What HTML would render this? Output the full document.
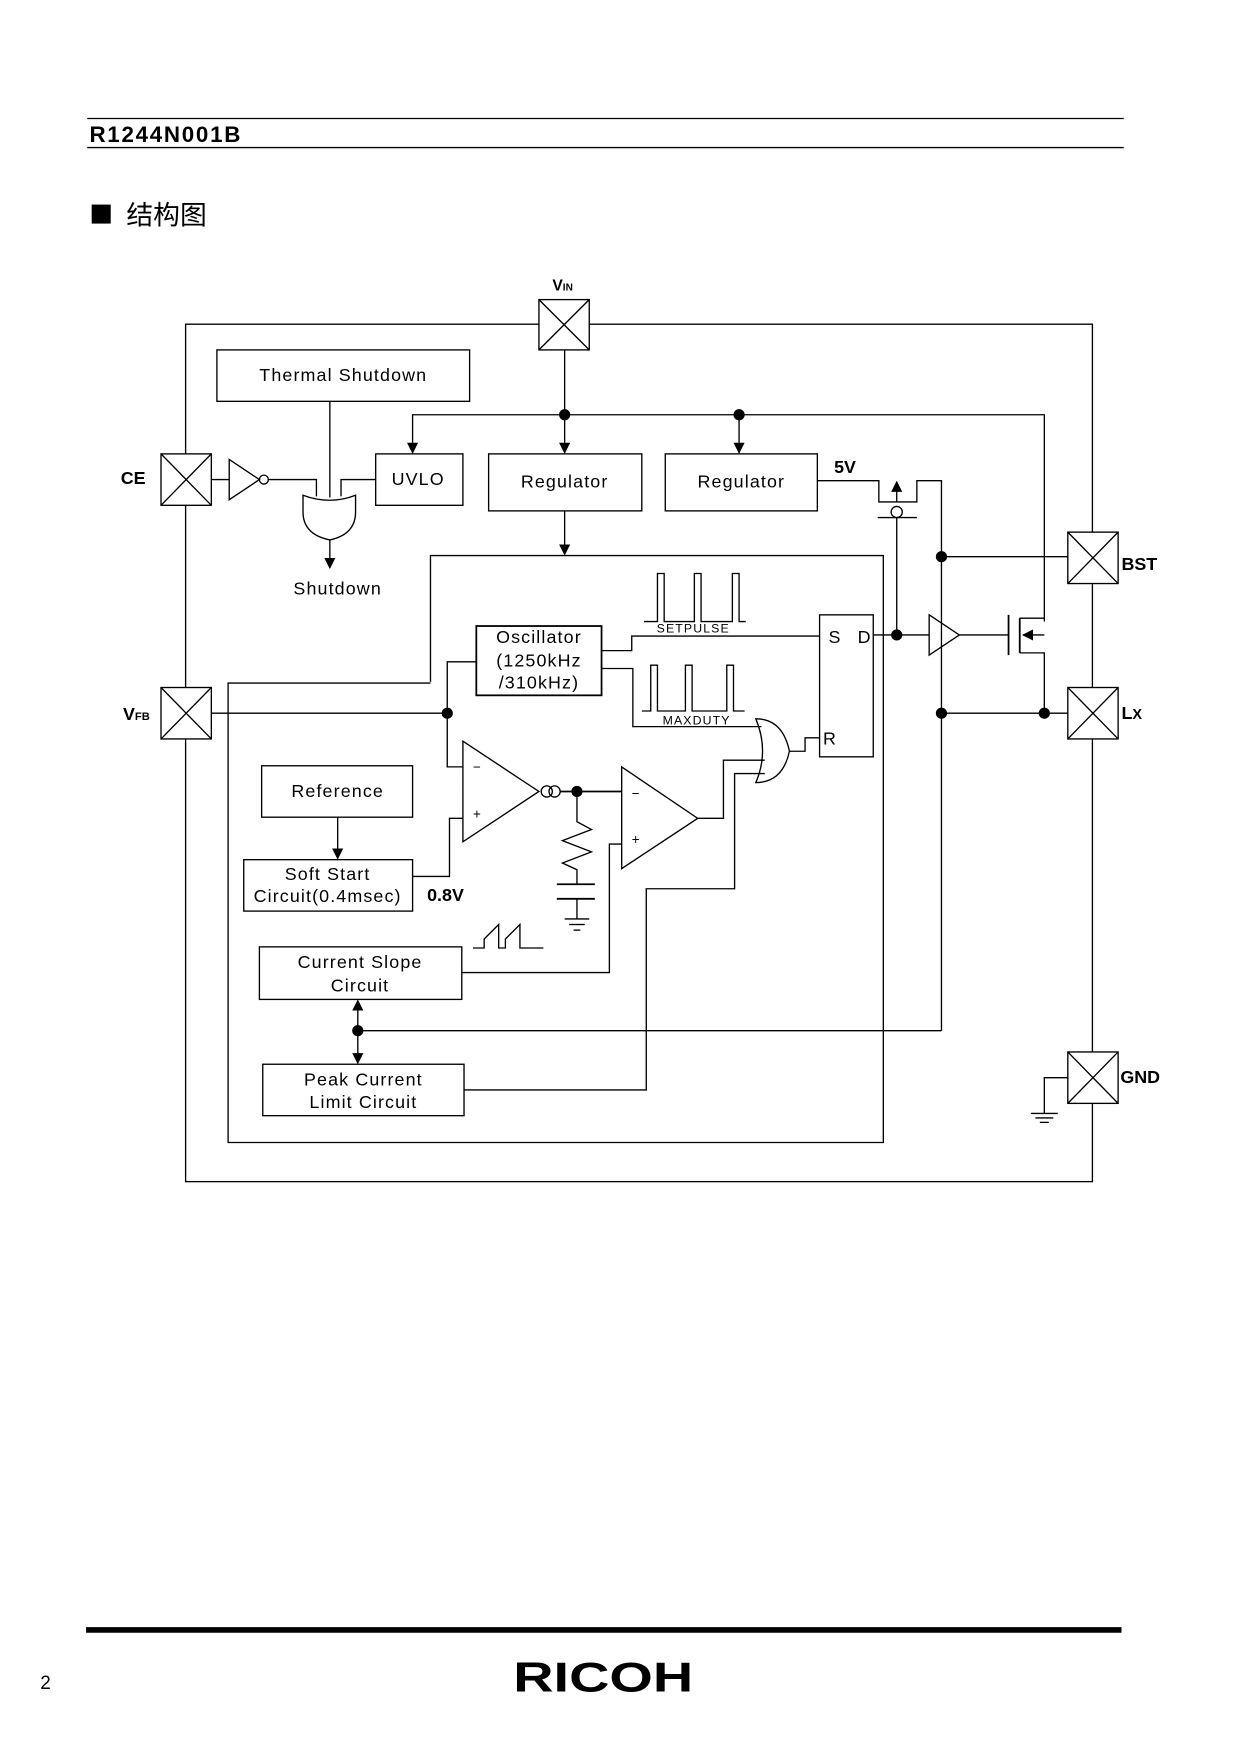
<!DOCTYPE html>
<html><head><meta charset="utf-8"><style>
html,body{margin:0;padding:0;background:#fff;}
svg{display:block;}
text{font-family:"Liberation Sans","Noto Sans CJK SC",sans-serif;fill:#000;}
</style></head><body>
<svg width="1240" height="1754" viewBox="0 0 1109 1569" preserveAspectRatio="none" xmlns="http://www.w3.org/2000/svg">
<defs>
<marker id="ar" markerWidth="10" markerHeight="10" refX="9" refY="5" orient="auto" markerUnits="userSpaceOnUse"><path d="M0,0 L10,5 L0,10 z" fill="#000"/></marker>
</defs>
<g stroke="#000" stroke-width="1.2" fill="none">
<line x1="78" y1="106" x2="1005" y2="106"/>
<line x1="78" y1="132" x2="1005" y2="132"/>
<line x1="77" y1="1458" x2="1003" y2="1458" stroke-width="5"/>
<rect x="166" y="290" width="811" height="767"/>
<g fill="#fff">
<rect x="482" y="268" width="45" height="45"/>
<rect x="144" y="406" width="45" height="46"/>
<rect x="144" y="615" width="45" height="46"/>
<rect x="955" y="476" width="45" height="46"/>
<rect x="955" y="615" width="45" height="46"/>
<rect x="955" y="941" width="45" height="46"/>
</g>
<path d="M482,268 L527,313 M527,268 L482,313"/>
<path d="M144,406 L189,452 M189,406 L144,452"/>
<path d="M144,615 L189,661 M189,615 L144,661"/>
<path d="M955,476 L1000,522 M1000,476 L955,522"/>
<path d="M955,615 L1000,661 M1000,615 L955,661"/>
<path d="M955,941 L1000,987 M1000,941 L955,987"/>
<rect x="194" y="313" width="226" height="46"/>
<rect x="336" y="406" width="78" height="46"/>
<rect x="437" y="406" width="137" height="51"/>
<rect x="595" y="406" width="136" height="51"/>
<rect x="426" y="560" width="112" height="62" stroke-width="1.6"/>
<rect x="733" y="550" width="48" height="127"/>
<rect x="234" y="685" width="135" height="46"/>
<rect x="218" y="769" width="151" height="46"/>
<rect x="232" y="847" width="181" height="47"/>
<rect x="235" y="952" width="180" height="46"/>
<path d="M385,610 L385,497 L790,497 L790,1022 L204,1022 L204,611 L385,611"/>
<line x1="505" y1="313" x2="505" y2="405" marker-end="url(#ar)"/>
<path d="M934,556 L934,371 L369,371 L369,405" marker-end="url(#ar)"/>
<line x1="661" y1="371" x2="661" y2="405" marker-end="url(#ar)"/>
<line x1="505" y1="457" x2="505" y2="496" marker-end="url(#ar)"/>
<line x1="189" y1="429" x2="205" y2="429"/>
<path d="M205,411 L232,429 L205,447 z"/>
<circle cx="236" cy="429" r="4"/>
<path d="M240,429 L283,429 L283,444"/>
<path d="M336,429 L305,429 L305,444"/>
<line x1="295" y1="359" x2="295" y2="445"/>
<path d="M271,443 Q295,452 318,443 L318,458 Q318,478 295,483 Q271,478 271,458 z"/>
<line x1="295" y1="483" x2="295" y2="508" marker-end="url(#ar)"/>
<path d="M731,430 L786,430 L786,449 L820,449 L820,430 L842,430 L842,922"/>
<line x1="785" y1="463" x2="820" y2="463"/>
<circle cx="802" cy="458" r="5" fill="#fff"/>
<line x1="802" y1="449" x2="802" y2="431" marker-end="url(#ar)"/>
<line x1="802" y1="463" x2="802" y2="568"/>
<line x1="842" y1="498" x2="955" y2="498"/>
<line x1="842" y1="638" x2="955" y2="638"/>
<line x1="781" y1="568" x2="831" y2="568"/>
<path d="M831,550 L858,568 L831,586 z"/>
<line x1="858" y1="568" x2="902" y2="568"/>
<line x1="902" y1="550" x2="902" y2="586" stroke-width="1.6"/>
<line x1="912" y1="553" x2="912" y2="584" stroke-width="1.6"/>
<path d="M912,553 L934,553 M912,584 L934,584 L934,638"/>
<line x1="934" y1="568" x2="915" y2="568" marker-end="url(#ar)"/>
<path d="M955,964 L934,964 L934,996"/>
<line x1="922" y1="996" x2="946" y2="996"/>
<line x1="926" y1="1000" x2="942" y2="1000"/>
<line x1="930" y1="1004" x2="938" y2="1004"/>
<line x1="189" y1="638" x2="400" y2="638"/>
<path d="M426,592 L400,592 L400,686 L414,686"/>
<path d="M538,582 L565,582 L565,569 L733,569"/>
<path d="M538,598 L566,598 L566,650 L681,650"/>
<path d="M576,556 L588,556 L588,513 L594,513 L594,556 L621,556 L621,513 L627,513 L627,556 L655,556 L655,513 L661,513 L661,556 L667,556"/>
<path d="M574,636 L582,636 L582,595 L588,595 L588,636 L613,636 L613,595 L619,595 L619,636 L650,636 L650,595 L656,595 L656,636 L666,636"/>
<path d="M414,663 L482,708 L414,753 z"/>
<path d="M369,784 L402,784 L402,732 L414,732"/>
<circle cx="489" cy="708" r="5"/>
<circle cx="496" cy="708" r="5"/>
<line x1="501" y1="708" x2="556" y2="708" stroke-width="1.6"/>
<path d="M516,708 L516,735 L529,742 L503,752 L529,762 L503,772 L516,778 L516,791"/>
<line x1="498" y1="791" x2="532" y2="791" stroke-width="1.6"/>
<line x1="498" y1="804" x2="532" y2="804" stroke-width="1.6"/>
<line x1="516" y1="804" x2="516" y2="822"/>
<line x1="505" y1="822" x2="527" y2="822"/>
<line x1="509" y1="827" x2="523" y2="827"/>
<line x1="513" y1="832" x2="519" y2="832"/>
<path d="M556,686 L624,732 L556,777 z"/>
<path d="M413,870 L545,870 L545,755 L556,755"/>
<path d="M624,732 L647,732 L647,680 L684,680"/>
<path d="M415,975 L578,975 L578,795 L657,795 L657,692 L684,692"/>
<path d="M676,643 Q700,643 706,672 Q700,700 676,700 Q688,672 676,643 z"/>
<path d="M706,672 L720,672 L720,660 L733,660"/>
<path d="M423,848 L433,848 L433,840 L446,827 L446,848 L452,848 L452,840 L465,827 L465,848 L486,848"/>
<line x1="302" y1="731" x2="302" y2="768" marker-end="url(#ar)"/>
<line x1="320" y1="922" x2="842" y2="922"/>
<line x1="320" y1="922" x2="320" y2="895" marker-end="url(#ar)"/>
<line x1="320" y1="922" x2="320" y2="951" marker-end="url(#ar)"/>
</g>
<g fill="#000">
<circle cx="505" cy="371" r="5"/>
<circle cx="661" cy="371" r="5"/>
<circle cx="842" cy="498" r="5"/>
<circle cx="842" cy="638" r="5"/>
<circle cx="934" cy="638" r="5"/>
<circle cx="802" cy="568" r="5"/>
<circle cx="400" cy="638" r="5"/>
<circle cx="516" cy="708" r="5"/>
<circle cx="320" cy="922" r="5"/>
</g>
<text x="80" y="127" font-size="20" font-weight="bold" textLength="135">R1244N001B</text>
<rect x="82" y="183" width="17" height="17" fill="#000"/>
<text x="113" y="201" font-size="24">结构图</text>
<text x="494" y="260" font-size="14" font-weight="bold">V<tspan font-size="9">IN</tspan></text>
<text x="108" y="433" font-size="16" font-weight="bold">CE</text>
<text x="110" y="644" font-size="16" font-weight="bold">V<tspan font-size="10">FB</tspan></text>
<text x="1003" y="510" font-size="16" font-weight="bold">BST</text>
<text x="1003" y="643" font-size="16" font-weight="bold">L<tspan font-size="13">X</tspan></text>
<text x="1002" y="969" font-size="16" font-weight="bold">GND</text>
<text x="746" y="423" font-size="16" font-weight="bold">5V</text>
<text x="382" y="806" font-size="16" font-weight="bold">0.8V</text>
<g font-size="16" text-anchor="middle" letter-spacing="1">
<text x="307" y="341">Thermal Shutdown</text>
<text x="374" y="434">UVLO</text>
<text x="505" y="436">Regulator</text>
<text x="663" y="436">Regulator</text>
<text x="302" y="532">Shutdown</text>
<text x="482" y="575">Oscillator</text>
<text x="482" y="596">(1250kHz</text>
<text x="482" y="616">/310kHz)</text>
<text x="302" y="713">Reference</text>
<text x="293" y="787">Soft Start</text>
<text x="293" y="807">Circuit(0.4msec)</text>
<text x="322" y="866">Current Slope</text>
<text x="322" y="887">Circuit</text>
<text x="325" y="971">Peak Current</text>
<text x="325" y="991">Limit Circuit</text>
</g>
<text x="741" y="575" font-size="16">S</text>
<text x="767" y="575" font-size="16">D</text>
<text x="736" y="666" font-size="16">R</text>
<text x="620" y="566" font-size="11" text-anchor="middle" letter-spacing="1">SETPULSE</text>
<text x="623" y="648" font-size="11" text-anchor="middle" letter-spacing="1">MAXDUTY</text>
<text x="423" y="690" font-size="12">−</text>
<text x="423" y="732" font-size="12">+</text>
<text x="565" y="714" font-size="12">−</text>
<text x="565" y="755" font-size="12">+</text>
<text x="36" y="1511" font-size="17">2</text>
<text x="459" y="1513" font-size="37" font-weight="bold" textLength="161" lengthAdjust="spacingAndGlyphs">RICOH</text>
</svg>
</body></html>
